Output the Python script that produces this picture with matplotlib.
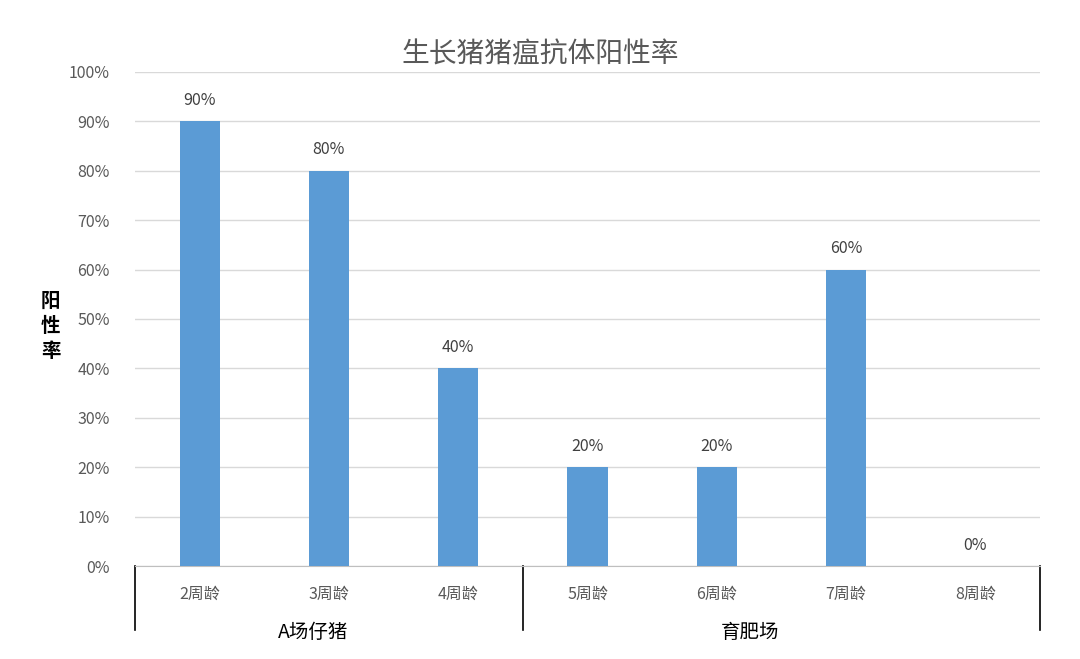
import matplotlib
matplotlib.use("Agg")
import matplotlib.pyplot as plt

plt.rcParams['font.family'] = ['Noto Sans CJK SC', 'DejaVu Sans']

categories = ["2周龄", "3周龄", "4周龄", "5周龄", "6周龄", "7周龄", "8周龄"]
values = [90, 80, 40, 20, 20, 60, 0]
groups = ["A场仔猪", "育肥场"]
group_sizes = [3, 4]
yticks = list(range(0, 101, 10))

fig = plt.figure(figsize=(10.8, 6.59), dpi=100)
ax = fig.add_axes([0.125, 0.141, 0.838, 0.750])
x = list(range(len(categories)))
ax.bar(x, values, width=0.31, color="#5B9BD5", zorder=3)
for xi, v in zip(x, values):
    ax.text(xi, v + 2.5, f"{v}%", ha="center", va="bottom", fontsize=11.5, color="#404040")
ax.set_xlim(-0.5, len(categories) - 0.5)
ax.set_ylim(0, 100)
ax.set_yticks(yticks)
ax.set_yticklabels([f"{t}%" for t in yticks], fontsize=11.5, color="#595959")
ax.yaxis.grid(True, color="#D9D9D9", linewidth=1, zorder=0)
for s in ["top", "right", "left"]:
    ax.spines[s].set_visible(False)
ax.spines["bottom"].set_color("#BFBFBF")
ax.tick_params(axis="y", length=0, pad=18)
ax.tick_params(axis="x", length=0, pad=14)
ax.set_xticks(x)
ax.set_xticklabels(categories, fontsize=11.5, color="#595959")

# group separators and labels
tr = ax.get_xaxis_transform()
start = -0.5
bounds = [start]
for g, n in zip(groups, group_sizes):
    end = start + n
    ax.text((start + end) / 2 - 0.12 * (n - 2), -0.135, g, transform=tr,
            ha="center", va="center", fontsize=14, color="#000000")
    bounds.append(end)
    start = end
for b in bounds:
    ax.plot([b, b], [0, -0.13], transform=tr, color="#000000", linewidth=1.2, clip_on=False)

fig.text(0.5, 0.918, "生长猪猪瘟抗体阳性率", ha="center", va="center", fontsize=20, color="#595959")
fig.text(0.047, 0.505, "阳\n性\n率", ha="center", va="center", fontsize=14, fontweight="bold", linespacing=1.4)
fig.savefig("out.png")
